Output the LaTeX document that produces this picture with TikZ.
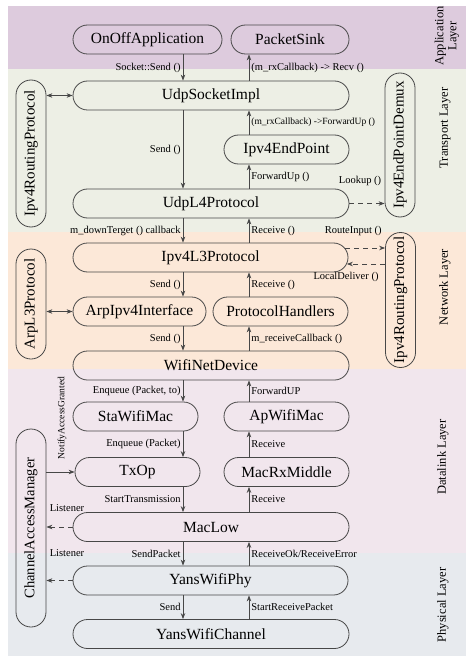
\documentclass[tikz,border=0pt]{standalone}
\usepackage{fontspec}
\setmainfont{Liberation Serif}
\usetikzlibrary{arrows.meta}
\definecolor{appbg}{HTML}{DDCBDD}
\definecolor{transbg}{HTML}{EDEFE5}
\definecolor{netbg}{HTML}{FCE8D8}
\definecolor{linkbg}{HTML}{F1E6ED}
\definecolor{phybg}{HTML}{E7EAEE}
\definecolor{edge}{HTML}{474747}
\begin{document}
\begin{tikzpicture}[
  x=1pt, y=-1pt,
  cell/.style={rectangle,draw=edge,line width=0.8pt,rounded corners=14.5pt,minimum height=29pt,inner sep=0pt,font=\fontsize{15.5}{18}\selectfont},
  side/.style={cell,rotate=90,minimum height=30pt,rounded corners=15pt,font=\fontsize{15}{18}\selectfont},
  lbl/.style={inner sep=2pt,font=\fontsize{10.5}{12}\selectfont},
  small/.style={inner sep=2pt,font=\fontsize{9.5}{11}\selectfont},
  layer/.style={rotate=90,align=center,font=\fontsize{12.5}{13}\selectfont},
  flow/.style={draw=edge,line width=0.8pt,-{Stealth[length=6pt,width=4.5pt]}},
  hint/.style={flow,dash pattern=on 5pt off 4pt},
  both/.style={flow,{Stealth[length=6pt,width=4.5pt]}-{Stealth[length=6pt,width=4.5pt]}}
  ]
  \useasboundingbox (0,0) rectangle (474,663);
  \fill[appbg] (8,6) rectangle (466,69);
  \fill[transbg] (8,69) rectangle (466,232);
  \fill[netbg] (8,232) rectangle (466,369);
  \fill[linkbg] (8,369) rectangle (466,553);
  \fill[phybg] (8,553) rectangle (466,656);

  \node[layer] (applayer) at (447,36) {Application\\Layer};
  \node[layer] (translayer) at (445,128) {Transport Layer};
  \node[layer] (netlayer) at (445,287) {Network Layer};
  \node[layer] (linklayer) at (443,457) {Datalink Layer};
  \node[layer] (phylayer) at (443,605) {Physical Layer};

  \node[cell,minimum width=149pt] (onoff) at (147.5,39.5) {OnOffApplication};
  \node[cell,minimum width=118pt] (sink) at (290,39.5) {PacketSink};
  \node[cell,minimum width=276pt] (udpsock) at (211,95.5) {UdpSocketImpl};
  \node[cell,minimum width=125pt] (endpoint) at (286.5,149.5) {Ipv4EndPoint};
  \node[cell,minimum width=276pt] (udpl4) at (211,203.5) {UdpL4Protocol};
  \node[cell,minimum width=275pt] (ipv4l3) at (210.5,257.5) {Ipv4L3Protocol};
  \node[cell,minimum width=133pt] (arpif) at (139.5,311.5) {ArpIpv4Interface};
  \node[cell,minimum width=135pt] (handlers) at (280.5,311.5) {ProtocolHandlers};
  \node[cell,minimum width=276pt] (wifidev) at (211,365.5) {WifiNetDevice};
  \node[cell,minimum width=125pt] (sta) at (135.5,416.5) {StaWifiMac};
  \node[cell,minimum width=125pt] (ap) at (286.5,416.5) {ApWifiMac};
  \node[cell,minimum width=125pt] (txop) at (137.5,472) {TxOp};
  \node[cell,minimum width=125pt] (rxmiddle) at (286.5,472) {MacRxMiddle};
  \node[cell,minimum width=276pt] (maclow) at (211,527) {MacLow};
  \node[cell,minimum width=275pt] (phy) at (210.5,580.5) {YansWifiPhy};
  \node[cell,minimum width=276pt] (channel) at (211,634) {YansWifiChannel};

  \node[side,minimum width=147pt] (leftrouting) at (31,153.5) {Ipv4RoutingProtocol};
  \node[side,minimum width=144pt] (demux) at (400,145) {Ipv4EndPointDemux};
  \node[side,minimum width=110pt] (arpl3) at (31,304) {ArpL3Protocol};
  \node[side,minimum width=135pt] (rightrouting) at (400.5,300) {Ipv4RoutingProtocol};
  \node[side,minimum width=198pt,font=\fontsize{14.5}{18}\selectfont] (cam) at (31,528) {ChannelAccessManager};

  \coordinate (dn) at (183,0);
  \coordinate (up) at (249,0);
  \coordinate (routein) at ([yshift=9.5pt,xshift=-3pt]ipv4l3.east);
  \coordinate (localdel) at ([yshift=-6.5pt,xshift=-1.5pt]ipv4l3.east);

  \draw[flow] (onoff.south -| dn) -- node[lbl,left] {Socket::Send ()} (udpsock.north -| dn);
  \draw[flow] (udpsock.north -| up) -- node[lbl,right] {(m\_rxCallback) -> Recv ()} (sink.south -| up);
  \draw[flow] (endpoint.north -| up) -- node[small,right] {(m\_rxCallback) ->ForwardUp ()} (udpsock.south -| up);
  \draw[flow] (udpsock.south -| dn) -- node[lbl,left] {Send ()} (udpl4.north -| dn);
  \draw[flow] (udpl4.north -| up) -- node[lbl,right] {ForwardUp ()} (endpoint.south -| up);
  \draw[hint] (udpl4.east) -- node[lbl,above=15pt,xshift=-7pt] {Lookup ()} (demux.north |- udpl4.east);
  \draw[both] (leftrouting.south |- udpsock.west) -- (udpsock.west);

  \draw[flow] (udpl4.south -| dn) -- node[lbl,left] {m\_downTerget () callback} (ipv4l3.north -| dn);
  \draw[flow] (ipv4l3.north -| up) -- node[lbl,right] {Receive ()} (udpl4.south -| up);
  \draw[hint] (routein) -- node[lbl,above=10pt,xshift=-12pt] {RouteInput ()} (rightrouting.north |- routein);
  \draw[hint] (rightrouting.north |- localdel) -- node[lbl,below=6pt,xshift=-20pt] {LocalDeliver ()} (localdel);
  \draw[flow] (ipv4l3.south -| dn) -- node[lbl,left] {Send ()} (arpif.north -| dn);
  \draw[flow] (handlers.north -| up) -- node[lbl,right] {Receive ()} (ipv4l3.south -| up);
  \draw[both] (arpl3.south |- arpif.west) -- (arpif.west);
  \draw[flow] (arpif.south -| dn) -- node[lbl,left] {Send ()} (wifidev.north -| dn);
  \draw[flow] (wifidev.north -| up) -- node[lbl,right] {m\_receiveCallback ()} (handlers.south -| up);

  \draw[flow] (wifidev.south -| dn) -- node[lbl,left] {Enqueue (Packet, to)} (sta.north -| dn);
  \draw[flow] (ap.north -| up) -- node[lbl,right] {ForwardUP} (wifidev.south -| up);
  \draw[flow] (sta.south -| dn) -- node[lbl,left] {Enqueue (Packet)} (txop.north -| dn);
  \draw[flow] (rxmiddle.north -| up) -- node[lbl,right] {Receive} (ap.south -| up);
  \draw[flow] (txop.south -| dn) -- node[lbl,left] {StartTransmission} (maclow.north -| dn);
  \draw[flow] (maclow.north -| up) -- node[lbl,right] {Receive} (rxmiddle.south -| up);
  \draw[flow] (cam.south |- txop.west) -- (txop.west);
  \node[small,rotate=90] (notify) at (62,418) {NotifyAccessGranted};
  \draw[hint] (maclow.west) -- (cam.south |- maclow.west);
  \node[lbl] (listenmac) at (67,508) {Listener};

  \draw[flow] (maclow.south -| dn) -- node[lbl,left] {SendPacket} (phy.north -| dn);
  \draw[flow] (phy.north -| up) -- node[lbl,right] {ReceiveOk/ReceiveError} (maclow.south -| up);
  \draw[hint] (phy.west) -- (cam.south |- phy.west);
  \node[lbl] (listenphy) at (67,553) {Listener};
  \draw[flow] (phy.south -| dn) -- node[lbl,left] {Send} (channel.north -| dn);
  \draw[flow] (channel.north -| up) -- node[lbl,right] {StartReceivePacket} (phy.south -| up);
\end{tikzpicture}
\end{document}
